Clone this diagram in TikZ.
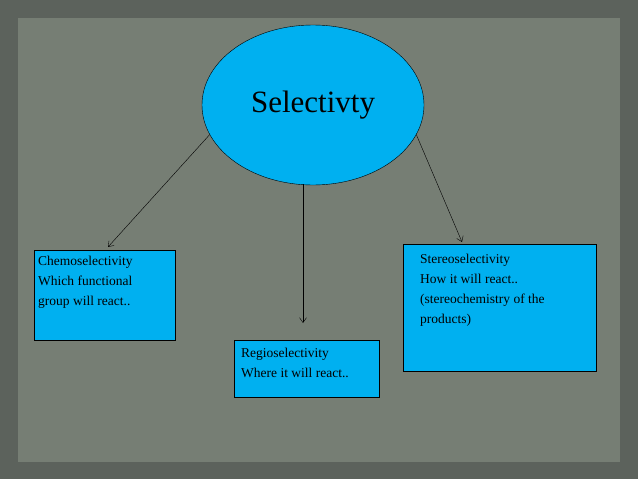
\documentclass[tikz,border=0pt]{standalone}
\usepackage{fontspec}
\setmainfont{Liberation Serif}
\usetikzlibrary{arrows.meta,shapes.geometric}
\definecolor{frame}{RGB}{92,98,92}
\definecolor{board}{RGB}{118,126,116}
\definecolor{sky}{RGB}{0,176,240}
\tikzset{
	box/.style={draw=black,fill=sky,anchor=north west,inner sep=0pt},
	label/.style={anchor=north west,align=left,inner sep=0pt,font=\fontsize{13.5}{20}\selectfont},
	link/.style={-{Straight Barb[length=5pt,width=7pt]},black,thin}
}
\begin{document}
\begin{tikzpicture}[x=1pt,y=-1pt]
	\fill[frame] (0,0) rectangle (638,479);
	\fill[board] (18,18) rectangle (620,462);
	\node[draw=black,fill=sky,ellipse,minimum width=222,minimum height=160] (sel) at (313,105) {};
	\node[font=\fontsize{31}{34}\selectfont] (title) at (313,105) {Selectivty};
	\node[box,minimum width=141,minimum height=90] (chemo) at (34,250) {};
	\node[box,minimum width=145,minimum height=57] (regio) at (234,340) {};
	\node[box,minimum width=193,minimum height=127] (stereo) at (403,244) {};
	\node[label] (chemotext) at ([shift={(4,6)}]chemo.north west) {Chemoselectivity\\Which functional\\group will react..};
	\node[label] (regiotext) at ([shift={(7,8)}]regio.north west) {Regioselectivity\\Where it will react..};
	\node[label] (stereotext) at ([shift={(17,10)}]stereo.north west) {Stereoselectivity\\How it will react..\\(stereochemistry of the\\products)};
	\coordinate (c1) at (108,247);
	\coordinate (c2) at (303,323);
	\coordinate (c3) at (462,242);
	\coordinate (s2) at (303,184);
	\draw[link] (sel.196) -- (c1);
	\draw[link] (s2) -- (c2);
	\draw[link] (sel.344) -- (c3);
\end{tikzpicture}
\end{document}
